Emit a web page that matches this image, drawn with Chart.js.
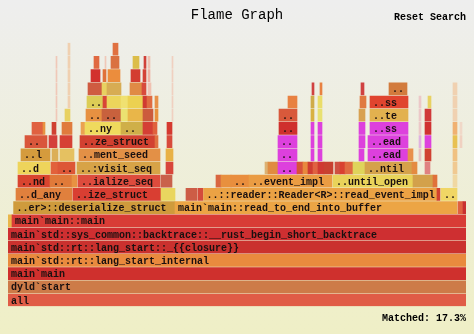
<!DOCTYPE html>
<html>
<head>
<meta charset="utf-8">
<script src="https://cdn.jsdelivr.net/npm/chart.js@4.4.0/dist/chart.umd.min.js"></script>
<style>
    html, body { margin: 0; padding: 0; background: #eeeeee; }
    canvas { display: block; }
</style>
</head>
<body>
<canvas id="flame" width="474" height="334"></canvas>
<script>
// ─── Flame graph data ──────────────────────────────────────
// One array per stack depth (0 = bottom). Each frame: [startSample, endSample, label]

const TOTAL_SAMPLES = 2290;
const MATCHED_PCT = 17.3;

const d0 = [[0, 2290, 'all']];
const d1 = [[0, 2290, 'dyld`start']];
const d2 = [[0, 2290, 'main`main']];
const d3 = [[0, 2290, 'main`std::rt::lang_start_internal']];
const d4 = [[0, 2290, 'main`std::rt::lang_start::_{{closure}}']];
const d5 = [[0, 2290, 'main`std::sys_common::backtrace::__rust_begin_short_backtrace']];
const d6 = [[0, 20, ''], [20, 2290, 'main`main::main']];
const d7 = [[28, 835, '..er>::deserialize_struct'], [835, 2245, 'main`main::read_to_end_into_buffer'],
    [2250, 2275, ''], [2275, 2290, '']];
const d8 = [[40, 320, '..d_any'], [325, 765, '..ize_struct'], [765, 835, ''], [890, 945, ''], [950, 975, ''],
    [978, 2145, '..::reader::Reader<R>::read_event_impl'], [2145, 2160, ''], [2165, 2245, '..']];
const d9 = [[50, 210, '..nd'], [210, 320, '..'], [320, 345, ''], [350, 760, '..ialize_seq'], [765, 820, ''],
    [1040, 1065, ''], [1065, 1115, ''], [1115, 1205, '..'], [1205, 1620, '..event_impl'],
    [1625, 2025, '..until_open'], [2025, 2125, ''], [2125, 2145, ''], [2225, 2245, '']];
const d10 = [[50, 210, '..d'], [215, 250, ''], [250, 335, '..'], [345, 760, '..:visit_seq'], [790, 825, ''],
    [1285, 1300, ''], [1300, 1350, ''], [1350, 1445, '..'], [1445, 1475, ''], [1475, 1500, ''],
    [1500, 1525, ''], [1525, 1550, ''], [1550, 1580, ''], [1580, 1625, ''], [1635, 1660, ''],
    [1660, 1685, ''], [1685, 1725, ''], [1725, 1785, ''], [1785, 2020, '..ntil'], [2020, 2045, ''],
    [2085, 2110, ''], [2225, 2245, '']];
const d11 = [[65, 210, '..l'], [220, 250, ''], [260, 330, ''], [355, 760, '..ment_seed'], [790, 825, ''],
    [1350, 1445, '..'], [1515, 1530, ''], [1550, 1570, ''], [1755, 1780, ''], [1800, 2000, '..ead'],
    [2000, 2025, ''], [2055, 2065, ''], [2085, 2115, ''], [2225, 2245, '']];
const d12 = [[85, 195, '..'], [205, 245, ''], [260, 320, ''], [360, 735, '..ze_struct'], [735, 750, ''],
    [795, 820, ''], [1350, 1445, '..'], [1515, 1530, ''], [1550, 1570, ''], [1755, 1785, ''],
    [1800, 2000, '..ead'], [2055, 2065, ''], [2085, 2115, ''], [2225, 2245, ''], [2260, 2270, '']];
const d13 = [[120, 175, ''], [175, 185, ''], [220, 240, ''], [270, 320, ''], [365, 385, ''],
    [385, 565, '..ny'], [565, 675, '..'], [675, 725, ''], [725, 745, ''], [795, 820, ''],
    [1355, 1445, '..'], [1515, 1530, ''], [1550, 1570, ''], [1755, 1785, ''], [1810, 2000, '..ss'],
    [2055, 2065, ''], [2085, 2115, ''], [2225, 2245, ''], [2260, 2270, '']];
const d14 = [[240, 245, ''], [285, 310, ''], [390, 470, '..'], [470, 565, '..'], [565, 600, ''],
    [600, 675, ''], [675, 725, ''], [735, 750, ''], [820, 825, ''], [1355, 1445, '..'],
    [1515, 1530, ''], [1550, 1570, ''], [1755, 1785, ''], [1810, 2000, '..te'], [2055, 2065, ''],
    [2085, 2115, ''], [2225, 2245, '']];
const d15 = [[240, 245, ''], [300, 310, ''], [395, 475, '..'], [475, 495, ''], [495, 565, ''],
    [565, 600, ''], [600, 675, ''], [675, 695, ''], [695, 720, ''], [735, 750, ''], [820, 825, ''],
    [1400, 1445, ''], [1515, 1530, ''], [1550, 1570, ''], [1760, 1790, ''], [1810, 2000, '..ss'],
    [2055, 2065, ''], [2100, 2115, ''], [2225, 2245, '']];
const d16 = [[240, 245, ''], [300, 310, ''], [400, 470, ''], [470, 495, ''], [495, 565, ''],
    [610, 670, ''], [670, 690, ''], [700, 715, ''], [820, 825, ''], [1520, 1530, ''],
    [1560, 1570, ''], [1765, 1780, ''], [1905, 1995, '..'], [2225, 2245, '']];
const d17 = [[240, 245, ''], [300, 310, ''], [415, 460, ''], [475, 490, ''], [500, 560, ''],
    [615, 660, ''], [675, 690, ''], [700, 710, ''], [820, 825, '']];
const d18 = [[240, 245, ''], [300, 310, ''], [430, 455, ''], [485, 490, ''], [515, 555, ''],
    [625, 655, ''], [680, 690, ''], [700, 710, ''], [820, 825, '']];
const d19 = [[300, 310, ''], [525, 550, '']];

const depths = [d0, d1, d2, d3, d4, d5, d6, d7, d8, d9, d10, d11, d12, d13, d14, d15, d16, d17, d18, d19];

// ─── Frame colours (same order as the frames above) ────────
const MAG = '#dd40dd'; // search match

const depthColors = [
    ['#e05c46'],
    ['#cd7b48'],
    ['#cf302d'],
    ['#e98a3e'],
    ['#ca312e'],
    ['#ce2f31'],
    ['#e9b64a', '#d83c36'],
    ['#cf9b3c', '#eca545', '#e06040', '#c83030'],
    ['#e0803d', '#d93e32', '#e9d65f', '#cd5d46', '#d44b3b', '#eba244', '#d2412f', '#f0d665'],
    ['#d9442f', '#e07a39', '#e89242', '#dd4b3d', '#c9614b', '#d9663f', '#e8903e', '#e98e3d', '#ea9c43',
        '#e9d35a', '#d3a14b', '#e0713b', '#f0d8a2'],
    ['#eed45b', '#e2613b', '#dd5636', '#d7a347', '#d8463b', '#ddb171', '#e08b41', MAG, '#d85139',
        '#e8893d', '#cf3b31', '#e06141', '#d03931', '#c84130', '#cf5141', '#d94131', '#e06b41',
        '#dfd45b', '#d5a24b', '#e48b41', '#e08181', '#f0c991'],
    ['#d59b3d', '#dcaf56', '#e5c161', '#e39046', '#e8b146', MAG, MAG, MAG, MAG, MAG,
        '#e8914b', '#e8c1c1', '#d04131', '#f0c181'],
    ['#d9563b', '#d4413b', '#d64135', '#d24130', '#e07141', '#d84b3b', MAG, MAG, MAG, MAG, MAG,
        '#e0b1e0', MAG, '#e8c151', '#f0d1c1'],
    ['#e06141', '#e89141', '#d04131', '#e07b3d', '#eba151', '#efda5d', '#cfaf49', '#d43f35', '#e0613d',
        '#d53a30', '#cf302d', MAG, MAG, MAG, MAG, '#ecc8c8', '#d03131', '#f0b171', '#f0d8c8'],
    ['#f0c8b8', '#e8d161', '#e79141', '#c8613d', '#ebe171', '#e9b649', '#cc5b3d', '#e8913d', '#f0d0c0',
        '#d8593b', '#d8b141', '#e8e171', '#d8a151', '#e2b14f', '#ecc8c8', '#d03939', '#f0d1b1'],
    ['#f0c8b8', '#f0d0b0', '#dccd56', '#d84636', '#ecd55b', '#f0e171', '#ecd151', '#d03b31', '#e06b41',
        '#e89149', '#f0d0c0', '#e88141', '#cfab49', '#eadd69', '#e07941', '#e0442f', '#ecc8c8',
        '#e8d161', '#f0d1b1'],
    ['#f0c8b8', '#f0d0b0', '#cf5b41', '#e8d161', '#d7ac53', '#e08b45', '#d84b3b', '#f0c1b1', '#f0d0c0',
        '#d04141', '#e88141', '#d04141', '#d27b3d', '#f0d1b1'],
    ['#f0c8b8', '#f0d0b0', '#d2312d', '#e07139', '#eb8d3d', '#d33d31', '#d44135', '#f0b1a1', '#f0d0c0'],
    ['#f0c8b8', '#f0d0b0', '#e06941', '#f0c8b8', '#da7141', '#dcbd49', '#d04139', '#f0c1b1', '#f0d0c0'],
    ['#f0d0b0', '#e07141']
];

const points = [];
const pointColors = [];
depths.forEach((row, depth) => {
    row.forEach(([start, end, label], i) => {
        points.push({ x: [start, end], y: depth, label: label });
        pointColors.push(depthColors[depth][i] || '#e08040');
    });
});

const FONT = '"Liberation Mono", "DejaVu Sans Mono", monospace';

const backgroundPlugin = {
    id: 'flameBackground',
    beforeDraw(chart) {
        const { ctx, width, height } = chart;
        const grad = ctx.createLinearGradient(0, 0, 0, height);
        grad.addColorStop(0, '#eeeeee');
        grad.addColorStop(1, '#efefc6');
        ctx.save();
        ctx.fillStyle = grad;
        ctx.fillRect(0, 0, width, height);
        ctx.restore();
    }
};

const labelPlugin = {
    id: 'frameLabels',
    afterDatasetsDraw(chart) {
        const { ctx } = chart;
        const meta = chart.getDatasetMeta(0);
        ctx.save();
        ctx.font = 'bold 10px ' + FONT;
        ctx.fillStyle = '#1a1010';
        ctx.textBaseline = 'alphabetic';
        meta.data.forEach((bar, i) => {
            const label = points[i].label;
            if (!label) return;
            const left = Math.min(bar.x, bar.base);
            const w = Math.abs(bar.x - bar.base);
            ctx.save();
            ctx.beginPath();
            ctx.rect(left, bar.y - 6, w, 12);
            ctx.clip();
            ctx.fillText(label, left + 3, bar.y + 3.5);
            ctx.restore();
        });
        ctx.restore();
    }
};

const headerPlugin = {
    id: 'flameHeader',
    afterDraw(chart) {
        const { ctx, width } = chart;
        ctx.save();
        ctx.fillStyle = '#000';
        ctx.textBaseline = 'alphabetic';
        ctx.font = '14px ' + FONT;
        ctx.textAlign = 'center';
        ctx.fillText('Flame Graph', width / 2, 19);
        ctx.font = 'bold 10px ' + FONT;
        ctx.textAlign = 'right';
        ctx.fillText('Reset Search', 466, 19.5);
        ctx.fillText(`Matched: ${MATCHED_PCT}%`, 466, 320.5);
        ctx.restore();
    }
};

new Chart(document.getElementById('flame'), {
    type: 'bar',
    data: {
        datasets: [{
            data: points,
            backgroundColor: pointColors,
            borderWidth: 0,
            barThickness: 12,
            grouped: false
        }]
    },
    options: {
        indexAxis: 'y',
        responsive: false,
        animation: false,
        layout: { padding: { top: 42.6, bottom: 27.4, left: 8, right: 8 } },
        scales: {
            x: { type: 'linear', min: 0, max: TOTAL_SAMPLES, display: false },
            y: {
                type: 'linear',
                min: -0.5,
                max: depths.length - 0.5,
                offset: false,
                grid: { offset: false },
                display: false
            }
        },
        plugins: {
            legend: { display: false },
            tooltip: { enabled: false }
        }
    },
    plugins: [backgroundPlugin, labelPlugin, headerPlugin]
});
</script>
</body>
</html>
